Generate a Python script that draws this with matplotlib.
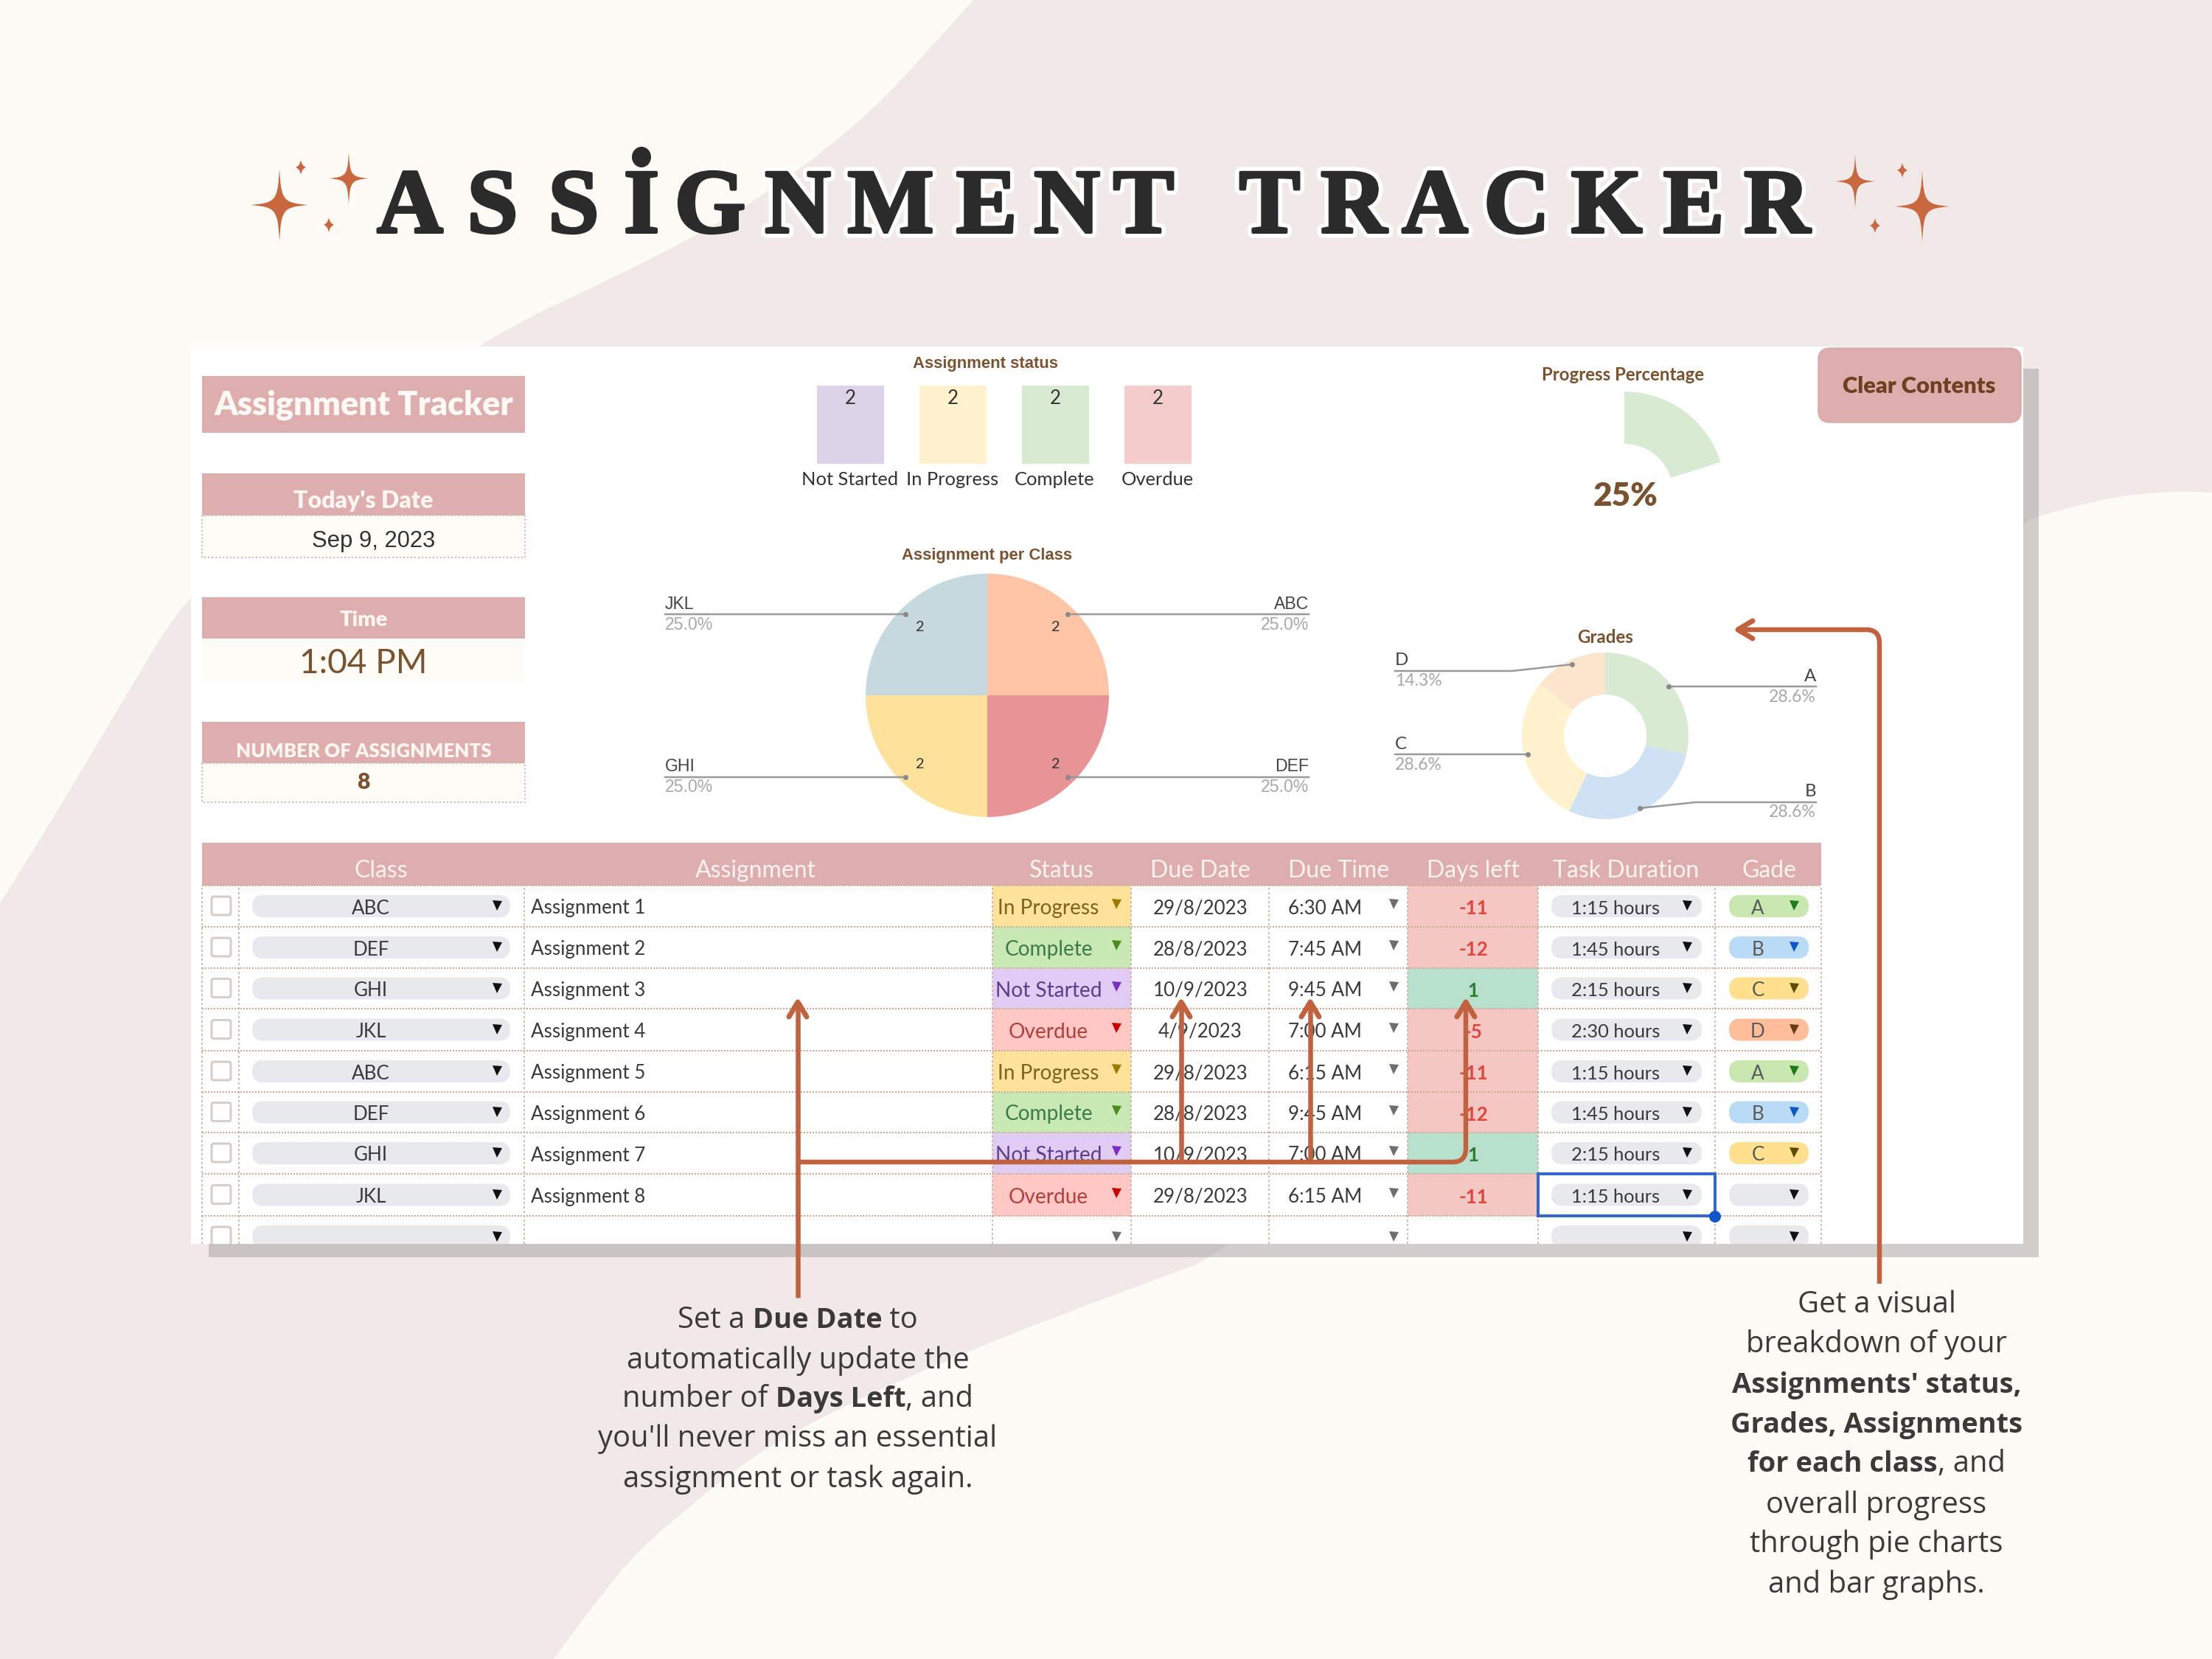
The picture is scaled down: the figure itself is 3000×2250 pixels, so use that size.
"""Assignment tracker sheet, laid out in 3000x2250 pixel coordinates."""
import matplotlib
matplotlib.use('Agg')
import matplotlib.pyplot as plt
import matplotlib.patheffects as pe
from matplotlib.patches import Rectangle, FancyBboxPatch, PathPatch, Ellipse, Wedge
from matplotlib.path import Path

W, H = 3000, 2250
DPI = 200
PX = 72 / DPI  # one image pixel in points

plt.rcParams['font.family'] = ['Lato', 'DejaVu Sans']

# ── data ────────────────────────────────────────────────────────────────
TITLE_LETTERS = list('ASSIGNMENTTRACKER')
TITLE_X = [556, 668, 778, 870, 963, 1082, 1208, 1338, 1447, 1551,
           1722, 1836, 1946, 2057, 2179, 2297, 2410]

STATUS_NAMES = ['Not Started', 'In Progress', 'Complete', 'Overdue']
STATUS_COUNTS = [2, 2, 2, 2]

CLASS_NAMES = ['ABC', 'DEF', 'GHI', 'JKL']
CLASS_COUNTS = [2, 2, 2, 2]
CLASS_PCT = ['25.0%', '25.0%', '25.0%', '25.0%']

GRADE_NAMES = ['A', 'B', 'C', 'D']
GRADE_COUNTS = [2, 2, 2, 1]
GRADE_PCT = ['28.6%', '28.6%', '28.6%', '14.3%']

PROGRESS = 25

HEADERS = ['Class', 'Assignment', 'Status', 'Due Date', 'Due Time',
           'Days left', 'Task Duration', 'Gade']
CLASSES = ['ABC', 'DEF', 'GHI', 'JKL', 'ABC', 'DEF', 'GHI', 'JKL']
ASSIGNMENTS = ['Assignment 1', 'Assignment 2', 'Assignment 3', 'Assignment 4',
               'Assignment 5', 'Assignment 6', 'Assignment 7', 'Assignment 8']
STATUSES = ['In Progress', 'Complete', 'Not Started', 'Overdue',
            'In Progress', 'Complete', 'Not Started', 'Overdue']
DUE_DATES = ['29/8/2023', '28/8/2023', '10/9/2023', '4/9/2023',
             '29/8/2023', '28/8/2023', '10/9/2023', '29/8/2023']
DUE_TIMES = ['6:30 AM', '7:45 AM', '9:45 AM', '7:00 AM',
             '6:15 AM', '9:45 AM', '7:00 AM', '6:15 AM']
DAYS_LEFT = [-11, -12, 1, -5, -11, -12, 1, -11]
DURATIONS = ['1:15 hours', '1:45 hours', '2:15 hours', '2:30 hours',
             '1:15 hours', '1:45 hours', '2:15 hours', '1:15 hours']
GRADES = ['A', 'B', 'C', 'D', 'A', 'B', 'C', '']

# ── colours ─────────────────────────────────────────────────────────────
CREAM = '#FDFBF6'
BLUSH = '#F1E9E7'
ROSE = '#DEAEAE'
RUST = '#C1623F'
BROWN = '#7A5230'
INK = '#3A3A3A'
DOT = '#C9A894'
PILL = '#E8E9EC'

STATUS_BAR = {'Not Started': '#DCD3E9', 'In Progress': '#FFF2CC',
              'Complete': '#D9EAD3', 'Overdue': '#F4CCCC'}
STATUS_CELL = {'Not Started': ('#E1CCF3', '#5B3F8C', '#7B2EC4'),
               'In Progress': ('#FFE299', '#7A6420', '#9A7B00'),
               'Complete': ('#C8E8B4', '#3C7A48', '#4D8B1E'),
               'Overdue': ('#FFC8C4', '#B0403C', '#CC0000')}
GRADE_PILL = {'A': ('#C8E8B0', '#1F7A1F'), 'B': ('#B9DBF5', '#1155CC'),
              'C': ('#FFE08F', '#5F4B00'), 'D': ('#FFBE99', '#6B3A10'),
              '': (PILL, '#111111')}

fig = plt.figure(figsize=(W / DPI, H / DPI), dpi=DPI)
ax = fig.add_axes([0, 0, 1, 1])
renderer = fig.canvas.get_renderer()


def Y(py):
    return H - py


def put(x, y, s, px, color=INK, ha='center', weight='normal', z=6, **kw):
    return ax.text(x, Y(y + 2), s, fontsize=px * PX, color=color, ha=ha, va='center',
                   fontweight=weight, zorder=z, **kw)


def box(x0, y0, x1, y1, fc, z=3, **kw):
    p = Rectangle((x0, Y(y1)), x1 - x0, y1 - y0, facecolor=fc, edgecolor='none', zorder=z, **kw)
    ax.add_patch(p)
    return p


def pill(x0, y0, x1, y1, fc, clip=None, ec='none', rounding=15, z=4, lw=0):
    p = FancyBboxPatch((x0, Y(y1)), x1 - x0, y1 - y0,
                       boxstyle=f'round,pad=0,rounding_size={rounding}',
                       facecolor=fc, edgecolor=ec, linewidth=lw, zorder=z)
    ax.add_patch(p)
    if clip is not None:
        p.set_clip_path(clip)
    return p


def tri(x, y, color, size=13):
    ax.plot([x], [Y(y)], marker='v', color=color, markersize=size * PX, markeredgewidth=0,
            linestyle='none', zorder=7)


def dotted_box(x0, y0, x1, y1):
    ax.plot([x0, x0, x1, x1, x0], [Y(y0), Y(y1), Y(y1), Y(y0), Y(y0)],
            color='#C9C0B4', lw=2 * PX, linestyle=(0, (1, 1.5)), zorder=4)


def star(cx, cy, hw, hh, k=0.12, z=5):
    """Four pointed sparkle: thin arms, small body in the middle."""
    py = Y(cy)
    tips = [(cx, py + hh), (cx + hw, py), (cx, py - hh), (cx - hw, py), (cx, py + hh)]
    verts = [tips[0]]
    for a, b in zip(tips, tips[1:]):
        c1 = (cx + (a[0] - cx) * k + (b[0] - cx) * k / 2, py + (a[1] - py) * k + (b[1] - py) * k / 2)
        c2 = (cx + (b[0] - cx) * k + (a[0] - cx) * k / 2, py + (b[1] - py) * k + (a[1] - py) * k / 2)
        verts += [c1, c2, b]
    codes = [Path.MOVETO] + [Path.CURVE4] * 12
    ax.add_patch(PathPatch(Path(verts, codes), facecolor='#C9673E', edgecolor='none', zorder=z))


def rich_line(cx, y, runs, px):
    """One centred line with regular and bold runs, measured piece by piece."""
    pieces, total = [], 0
    for s, bold in runs:
        t = put(0, y, s, px * 0.95 if bold else px, color='#3B3A38', ha='left',
                weight='bold' if bold else 'normal', z=8, family=['Open Sans', 'DejaVu Sans'])
        w = t.get_window_extent(renderer).width
        pieces.append((t, w))
        total += w
    x = cx - total / 2
    for t, w in pieces:
        t.set_x(x)
        x += w


def arrow_head(x, y, direction):
    """Open arrow head with its tip at x, y (pixel coordinates)."""
    if direction == 'up':
        pts = [(x - 12, y + 21), (x, y + 1), (x + 12, y + 21)]
    else:
        pts = [(x + 21, y - 12), (x + 1, y), (x + 21, y + 12)]
    ax.plot([p[0] for p in pts], [Y(p[1]) for p in pts], color=RUST, lw=7 * PX,
            solid_capstyle='round', solid_joinstyle='round', zorder=9)


def rust_path(pts, codes=None):
    verts = [(x, Y(y)) for x, y in pts]
    codes = codes or [Path.MOVETO] + [Path.LINETO] * (len(pts) - 1)
    ax.add_patch(PathPatch(Path(verts, codes), facecolor='none', edgecolor=RUST,
                           lw=6.5 * PX, capstyle='butt', zorder=9))


def smooth_edge(pts):
    """Quadratic segments through the midpoints of a rough outline."""
    verts, codes = [pts[0]], [Path.LINETO]
    for a, b in zip(pts[1:-1], pts[2:]):
        verts += [a, ((a[0] + b[0]) / 2, (a[1] + b[1]) / 2)]
        codes += [Path.CURVE3, Path.CURVE3]
    verts.append(pts[-1])
    codes.append(Path.LINETO)
    return verts, codes


# ── background ──────────────────────────────────────────────────────────
ax.add_patch(Rectangle((0, 0), W, H, facecolor=CREAM, edgecolor='none', zorder=0))
upper_edge = [(1320, 0), (1240, 90), (1162, 170), (1030, 270), (889, 350), (640, 466), (450, 622),
              (258, 798), (159, 963), (64, 1123), (0, 1225)]
lower_edge = [(751, 2250), (840, 2127), (917, 2058), (1019, 1975), (1146, 1905), (1338, 1822),
              (1529, 1749), (1700, 1687), (2744, 708), (2763, 700), (2867, 673), (2950, 666), (3000, 668)]
v1, c1 = smooth_edge(upper_edge)
v2, c2 = smooth_edge(lower_edge)
blob_pts = v1 + [(0, 2250)] + v2 + [(3000, 0), (1320, 0)]
blob_codes = [Path.MOVETO] + c1[1:] + [Path.LINETO] + [Path.LINETO] + c2[1:] + [Path.LINETO, Path.CLOSEPOLY]
ax.add_patch(PathPatch(Path([(x, Y(y)) for x, y in blob_pts], blob_codes), facecolor=BLUSH,
                       edgecolor='none', zorder=1))

# ── heading ─────────────────────────────────────────────────────────────
for i, (letter, x) in enumerate(zip(TITLE_LETTERS, TITLE_X)):
    t = ax.text(x, Y(315), letter, fontsize=124 * PX, family='Liberation Serif', fontweight='bold',
                color='#2B2B2B', ha='center', va='baseline', zorder=5)
    effects = [pe.Stroke(linewidth=4 * PX, foreground='#2B2B2B'), pe.Normal()]
    if i >= 5:
        effects.insert(0, pe.Stroke(linewidth=15 * PX, foreground='#FFFFFF'))
    t.set_path_effects(effects)
ax.add_patch(Ellipse((870, Y(213)), 26, 28, facecolor='#2B2B2B', edgecolor='none', zorder=5))

star(379, 278, 39, 50)
star(473, 242, 27, 36)
star(408, 227, 7, 10, k=0.4)
star(446, 305, 7, 10, k=0.4)
star(2516, 246, 27, 36)
star(2607, 280, 37, 48)
star(2580, 231, 7, 10, k=0.4)
star(2543, 306, 7, 10, k=0.4)

# ── sheet panel and its shadow ──────────────────────────────────────────
box(283, 500, 2765, 1705, '#8E8A88', z=2, alpha=0.4)
panel = box(259, 470, 2744, 1687, '#FFFFFF', z=2.5)

# ── left column of cards ────────────────────────────────────────────────
box(274, 510, 712, 587, ROSE)
put(493, 547, 'Assignment Tracker', 45, color='#FFF9F5', weight='heavy')
box(274, 642, 712, 699, ROSE)
box(274, 699, 712, 756, '#FDFCF7')
dotted_box(274, 699, 712, 756)
put(493, 677, "Today's Date", 32, color='#FFF6F2', weight='heavy')
put(507, 732, 'Sep 9, 2023', 31, color='#333333', family='Liberation Sans')
box(274, 810, 712, 866, ROSE)
box(274, 866, 712, 923, '#FDFCF7')
put(493, 839, 'Time', 29, color='#FFF6F2', weight='heavy')
put(493, 898, '1:04 PM', 46, color=BROWN)
box(274, 979, 712, 1035, ROSE)
box(274, 1035, 712, 1088, '#FDFCF7')
dotted_box(274, 1035, 712, 1088)
put(493, 1017, 'NUMBER OF ASSIGNMENTS', 26, color='#FFF6F2', weight='heavy')
put(493, 1059, '8', 30, color=BROWN, weight='heavy')

# ── assignment status bars ──────────────────────────────────────────────
put(1336, 491, 'Assignment status', 22, color=BROWN, weight='bold', family='Liberation Sans')
STATUS_X = [1153.5, 1292.5, 1431.5, 1570.5]
UNIT_H = 53
ax.bar(STATUS_X, [v * UNIT_H for v in STATUS_COUNTS], width=91, bottom=Y(629),
       color=[STATUS_BAR[n] for n in STATUS_NAMES], zorder=3)
for x, n, v in zip(STATUS_X, STATUS_NAMES, STATUS_COUNTS):
    put(x, 539, str(v), 26, color='#333333')
    put(x - 1, 649, n, 25.5, color='#333333')

# ── assignment per class pie ────────────────────────────────────────────
put(1339, 751, 'Assignment per Class', 22, color=BROWN, weight='bold', family='Liberation Sans')
ax.pie(CLASS_COUNTS, center=(1339, Y(943)), radius=165, startangle=90, counterclock=False,
       colors=['#FDC4A5', '#E89396', '#FEE19A', '#C5D9DF'], frame=True,
       wedgeprops={'zorder': 4, 'linewidth': 0})
for (x0, x1, y, lx, la), name, pct in zip(
        [(1448, 1775, 833, 1775, 'right'), (1448, 1775, 1054, 1775, 'right'),
         (1228, 902, 1054, 902, 'left'), (1228, 902, 833, 902, 'left')],
        CLASS_NAMES, CLASS_PCT):
    ax.plot([x0, x1], [Y(y), Y(y)], color='#9A9A9A', lw=2.5 * PX, zorder=5)
    ax.plot([x0], [Y(y)], marker='o', color='#8A8A8A', markersize=7 * PX, markeredgewidth=0, zorder=5)
    put(lx, y - 16, name, 23, color='#444444', ha=la, family='Liberation Sans')
    put(lx, y + 12, pct, 23, color='#A8A8A8', ha=la, family='Liberation Sans')
for x, y, v in zip([1431, 1431, 1247, 1247], [848, 1034, 1034, 848], CLASS_COUNTS):
    put(x, y, str(v), 20, color='#333333')

# ── progress gauge ──────────────────────────────────────────────────────
put(2201, 506, 'Progress Percentage', 24, color=BROWN, weight='bold')
GAUGE_SWEEP = 290
ax.add_patch(Wedge((2203, Y(668)), 137, 90 - GAUGE_SWEEP * PROGRESS / 100, 90, width=71,
                   facecolor='#D9EAD3', edgecolor='none', zorder=4))
put(2205, 671, f'{PROGRESS}%', 44, color=BROWN, weight='heavy')

# ── clear contents button ───────────────────────────────────────────────
pill(2466, 472, 2741, 573, ROSE, ec='#DAA9A9', lw=1.5 * PX, rounding=16)
put(2603, 522, 'Clear Contents', 31, color='#6E4020', weight='heavy')

# ── grades donut ────────────────────────────────────────────────────────
put(2177, 862, 'Grades', 24, color=BROWN, weight='bold')
ax.pie(GRADE_COUNTS, center=(2177, Y(998)), radius=113, startangle=90, counterclock=False,
       colors=['#D9EAD3', '#CFE2F3', '#FFF2CC', '#FCE5CD'], frame=True,
       wedgeprops={'width': 57, 'zorder': 4, 'linewidth': 0})
GRADE_LEADERS = [
    [(2463, 931), (2263, 931)],
    [(2463, 1088), (2300, 1088), (2224, 1096)],
    [(1892, 1023), (2072, 1023)],
    [(1892, 910), (2051, 910), (2132, 901)],
]
for pts, name, pct in zip(GRADE_LEADERS, GRADE_NAMES, GRADE_PCT):
    ax.plot([p[0] for p in pts], [Y(p[1]) for p in pts], color='#9A9A9A', lw=2.5 * PX, zorder=5)
    ax.plot([pts[-1][0]], [Y(pts[-1][1])], marker='o', color='#8A8A8A', markersize=7 * PX,
            markeredgewidth=0, zorder=5)
    lx, ly = pts[0]
    la = 'left' if lx < 2000 else 'right'
    put(lx, ly - 16, name, 24, color='#444444', ha=la)
    put(lx, ly + 12, pct, 23, color='#A8A8A8', ha=la)

# ── table ───────────────────────────────────────────────────────────────
COL_X = [274, 324, 711, 1346, 1534, 1721, 1909, 2086, 2326, 2470]
ROW_Y = [1201, 1257, 1313, 1368, 1425, 1481, 1536, 1592, 1649, 1687]
HEADER_X = [517, 1025, 1440, 1628, 1816, 1998, 2205, 2399]

box(274, 1143, 2470, 1201, ROSE)
for x, h in zip(HEADER_X, HEADERS):
    put(x, 1179, h, 32, color='#FFF4F0')

for i in range(len(CLASSES)):
    y0, y1 = ROW_Y[i], ROW_Y[i + 1]
    cy = (y0 + y1) / 2
    # status and days-left fills go first so the dotted rules sit above them
    fill, fg, arrow = STATUS_CELL[STATUSES[i]]
    box(1346, y0, 1534, y1, fill)
    put(1422, cy + 1, STATUSES[i], 28, color=fg)
    tri(1514, cy - 3, arrow)
    late = DAYS_LEFT[i] < 0
    box(1909, y0, 2086, y1, '#F4C7C3' if late else '#B7E1CD')
    put(1998, cy + 1, str(DAYS_LEFT[i]), 26, color='#E0443E' if late else '#2E7D32', weight='bold')

    pill(287, cy - 13, 313, cy + 12, '#FFFFFF', ec='#D5CDC9', lw=3 * PX, rounding=3)
    pill(342, cy - 15, 692, cy + 15, PILL)
    put(503, cy + 1, CLASSES[i], 26, color='#3A3A3A')
    tri(674, cy - 1, '#111111')
    put(720, cy + 1, ASSIGNMENTS[i], 26, color='#3A3A3A', ha='left')

    put(1628, cy + 1, DUE_DATES[i], 26, color='#3A3A3A')
    put(1797, cy + 1, DUE_TIMES[i], 26, color='#3A3A3A')
    tri(1890, cy - 3, '#6E6E6E')

    pill(2104, cy - 15, 2308, cy + 15, PILL)
    put(2191, cy + 1, DURATIONS[i], 25.5, color='#3A3A3A')
    tri(2288, cy - 1, '#111111')

    fc, arrow = GRADE_PILL[GRADES[i]]
    pill(2345, cy - 15, 2453, cy + 15, fc)
    put(2384, cy + 1, GRADES[i], 26, color='#5A5A5A')
    tri(2433, cy - 1, arrow)

# empty last row, cut off by the panel edge
cy = 1677
pill(287, cy - 13, 313, cy + 12, '#FFFFFF', clip=panel, ec='#D5CDC9', lw=3 * PX, rounding=3)
pill(342, cy - 15, 692, cy + 15, PILL, clip=panel)
pill(2104, cy - 15, 2308, cy + 15, PILL, clip=panel)
pill(2345, cy - 15, 2453, cy + 15, PILL, clip=panel)
for x, c in [(674, '#111111'), (1514, '#6E6E6E'), (1890, '#6E6E6E'), (2288, '#111111'), (2433, '#111111')]:
    tri(x, cy, c)

ax.hlines([Y(y) for y in ROW_Y[:-1]], 274, 2470, color=DOT, lw=2 * PX,
          linestyle=(0, (1, 1)), zorder=5)
ax.vlines(COL_X, Y(1687), Y(1201), color=DOT, lw=1.5 * PX, linestyle=(0, (2, 2)), zorder=3.5)

# selected cell
ax.add_patch(Rectangle((2086, Y(1649)), 240, 57, facecolor='none', edgecolor='#3367C9',
                       lw=4 * PX, zorder=6))
ax.add_patch(Ellipse((2326, Y(1650)), 16, 16, facecolor='#1155CC', edgecolor='none', zorder=7))

# ── rust call-out arrows ────────────────────────────────────────────────
rust_path([(1082, 1760), (1082, 1358)])
arrow_head(1082, 1358, 'up')
rust_path([(1082, 1576), (1970, 1576), (1988, 1576), (1988, 1558), (1988, 1358)],
          [Path.MOVETO, Path.LINETO, Path.CURVE3, Path.CURVE3, Path.LINETO])
arrow_head(1988, 1358, 'up')
for x in (1602, 1777):
    rust_path([(x, 1576), (x, 1358)])
    arrow_head(x, 1358, 'up')
rust_path([(2549, 1741), (2549, 872), (2549, 854), (2531, 854), (2358, 854)],
          [Path.MOVETO, Path.LINETO, Path.CURVE3, Path.CURVE3, Path.LINETO])
arrow_head(2356, 854, 'left')

# ── captions ────────────────────────────────────────────────────────────
LEFT_CAPTION = [
    [('Set a ', False), ('Due Date', True), (' to', False)],
    [('automatically update the', False)],
    [('number of ', False), ('Days Left', True), (', and', False)],
    [("you'll never miss an essential", False)],
    [('assignment or task again.', False)],
]
RIGHT_CAPTION = [
    [('Get a visual', False)],
    [('breakdown of your', False)],
    [("Assignments' status,", True)],
    [('Grades, Assignments', True)],
    [('for each class', True), (', and', False)],
    [('overall progress', False)],
    [('through pie charts', False)],
    [('and bar graphs.', False)],
]
for y, runs in zip([1789, 1843, 1896, 1950, 2005], LEFT_CAPTION):
    rich_line(1082, y, runs, 40)
for y, runs in zip([1768, 1822, 1877, 1931, 1984, 2040, 2093, 2147], RIGHT_CAPTION):
    rich_line(2545, y, runs, 40)

ax.set_xlim(0, W)
ax.set_ylim(0, H)
ax.axis('off')
fig.savefig('out.png', dpi=DPI)
